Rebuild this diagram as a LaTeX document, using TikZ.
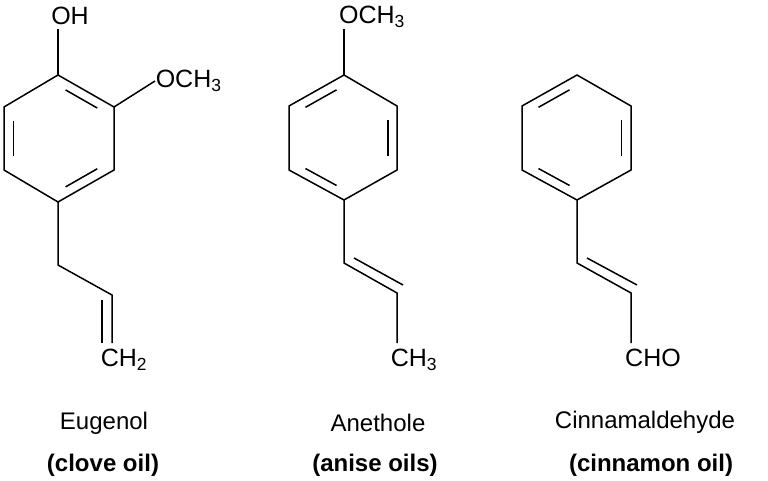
\documentclass[tikz,border=0pt]{standalone}
\usepackage{fontspec}
\setmainfont{Liberation Sans}
\usetikzlibrary{calc}
\begin{document}
\begin{tikzpicture}[x=1pt,y=-1pt,line width=1.5pt,
  atom/.style={inner sep=0pt,font=\fontsize{25}{25}\selectfont},
  lbl/.style={inner sep=0pt,font=\fontsize{24}{24}\selectfont},
  blbl/.style={inner sep=0pt,font=\fontsize{24}{24}\selectfont\bfseries}]
\useasboundingbox (0,0) rectangle (768,481);
\newcommand{\inb}[3]{\draw ($($(#1)!.16!(#2)$)!.17!(#3)$) -- ($($(#2)!.16!(#1)$)!.17!(#3)$);}
\newcommand{\sub}[1]{\textsubscript{#1}}
% Eugenol
\coordinate (e1) at (58,75); \coordinate (e2) at (114,107); \coordinate (e3) at (114,170);
\coordinate (e4) at (58,202); \coordinate (e5) at (4,170); \coordinate (e6) at (4,107);
\coordinate (ec) at (59,138);
\draw (e1)--(e2)--(e3)--(e4)--(e5)--(e6)--cycle;
\inb{e1}{e2}{ec} \inb{e3}{e4}{ec} \inb{e5}{e6}{ec}
\node[atom] (eoh) at (70,16) {OH};
\draw (e1) -- (58,29);
\node[atom,anchor=west] (eome) at (155,81) {OCH\sub{3}};
\draw (e2) -- (eome.west);
\coordinate (ea) at (58,265); \coordinate (eb) at (112,295); \coordinate (ecc) at (112,343);
\draw (e4)--(ea)--(eb)--(ecc);
\draw (102,300) -- (102,343);
\node[atom] (ech2) at (124,360) {CH\sub{2}};
% Anethole
\coordinate (a1) at (344,75); \coordinate (a2) at (397,106); \coordinate (a3) at (397,170);
\coordinate (a4) at (344,200); \coordinate (a5) at (289,170); \coordinate (a6) at (289,106);
\coordinate (ac) at (343,138);
\draw (a1)--(a2)--(a3)--(a4)--(a5)--(a6)--cycle;
\inb{a1}{a6}{ac} \inb{a2}{a3}{ac} \inb{a4}{a5}{ac}
\node[atom] (aome) at (372,17) {OCH\sub{3}};
\draw (a1) -- (344,29);
\coordinate (aa) at (344,263); \coordinate (ab) at (397,293); \coordinate (acc) at (397,343);
\draw (a4)--(aa)--(ab)--(acc);
\draw (354,258) -- (403,285);
\node[atom] (ach3) at (414,360) {CH\sub{3}};
% Cinnamaldehyde
\coordinate (c1) at (577,75); \coordinate (c2) at (631,106); \coordinate (c3) at (631,170);
\coordinate (c4) at (577,200); \coordinate (c5) at (522,170); \coordinate (c6) at (522,106);
\coordinate (cc) at (576,138);
\draw (c1)--(c2)--(c3)--(c4)--(c5)--(c6)--cycle;
\inb{c1}{c6}{cc} \inb{c2}{c3}{cc} \inb{c4}{c5}{cc}
\coordinate (ca) at (577,263); \coordinate (cb) at (631,293); \coordinate (ccc) at (631,343);
\draw (c4)--(ca)--(cb)--(ccc);
\draw (587,258) -- (637,285);
\node[atom] (cho) at (653,358) {CHO};
% labels
\node[lbl] (n1) at (104,423) {Eugenol};
\node[blbl] (b1) at (103,465) {(clove oil)};
\node[lbl] (n2) at (378,423) {Anethole};
\node[blbl] (b2) at (375,465) {(anise oils)};
\node[lbl] (n3) at (645,422) {Cinnamaldehyde};
\node[blbl] (b3) at (651,465) {(cinnamon oil)};
\end{tikzpicture}
\end{document}
